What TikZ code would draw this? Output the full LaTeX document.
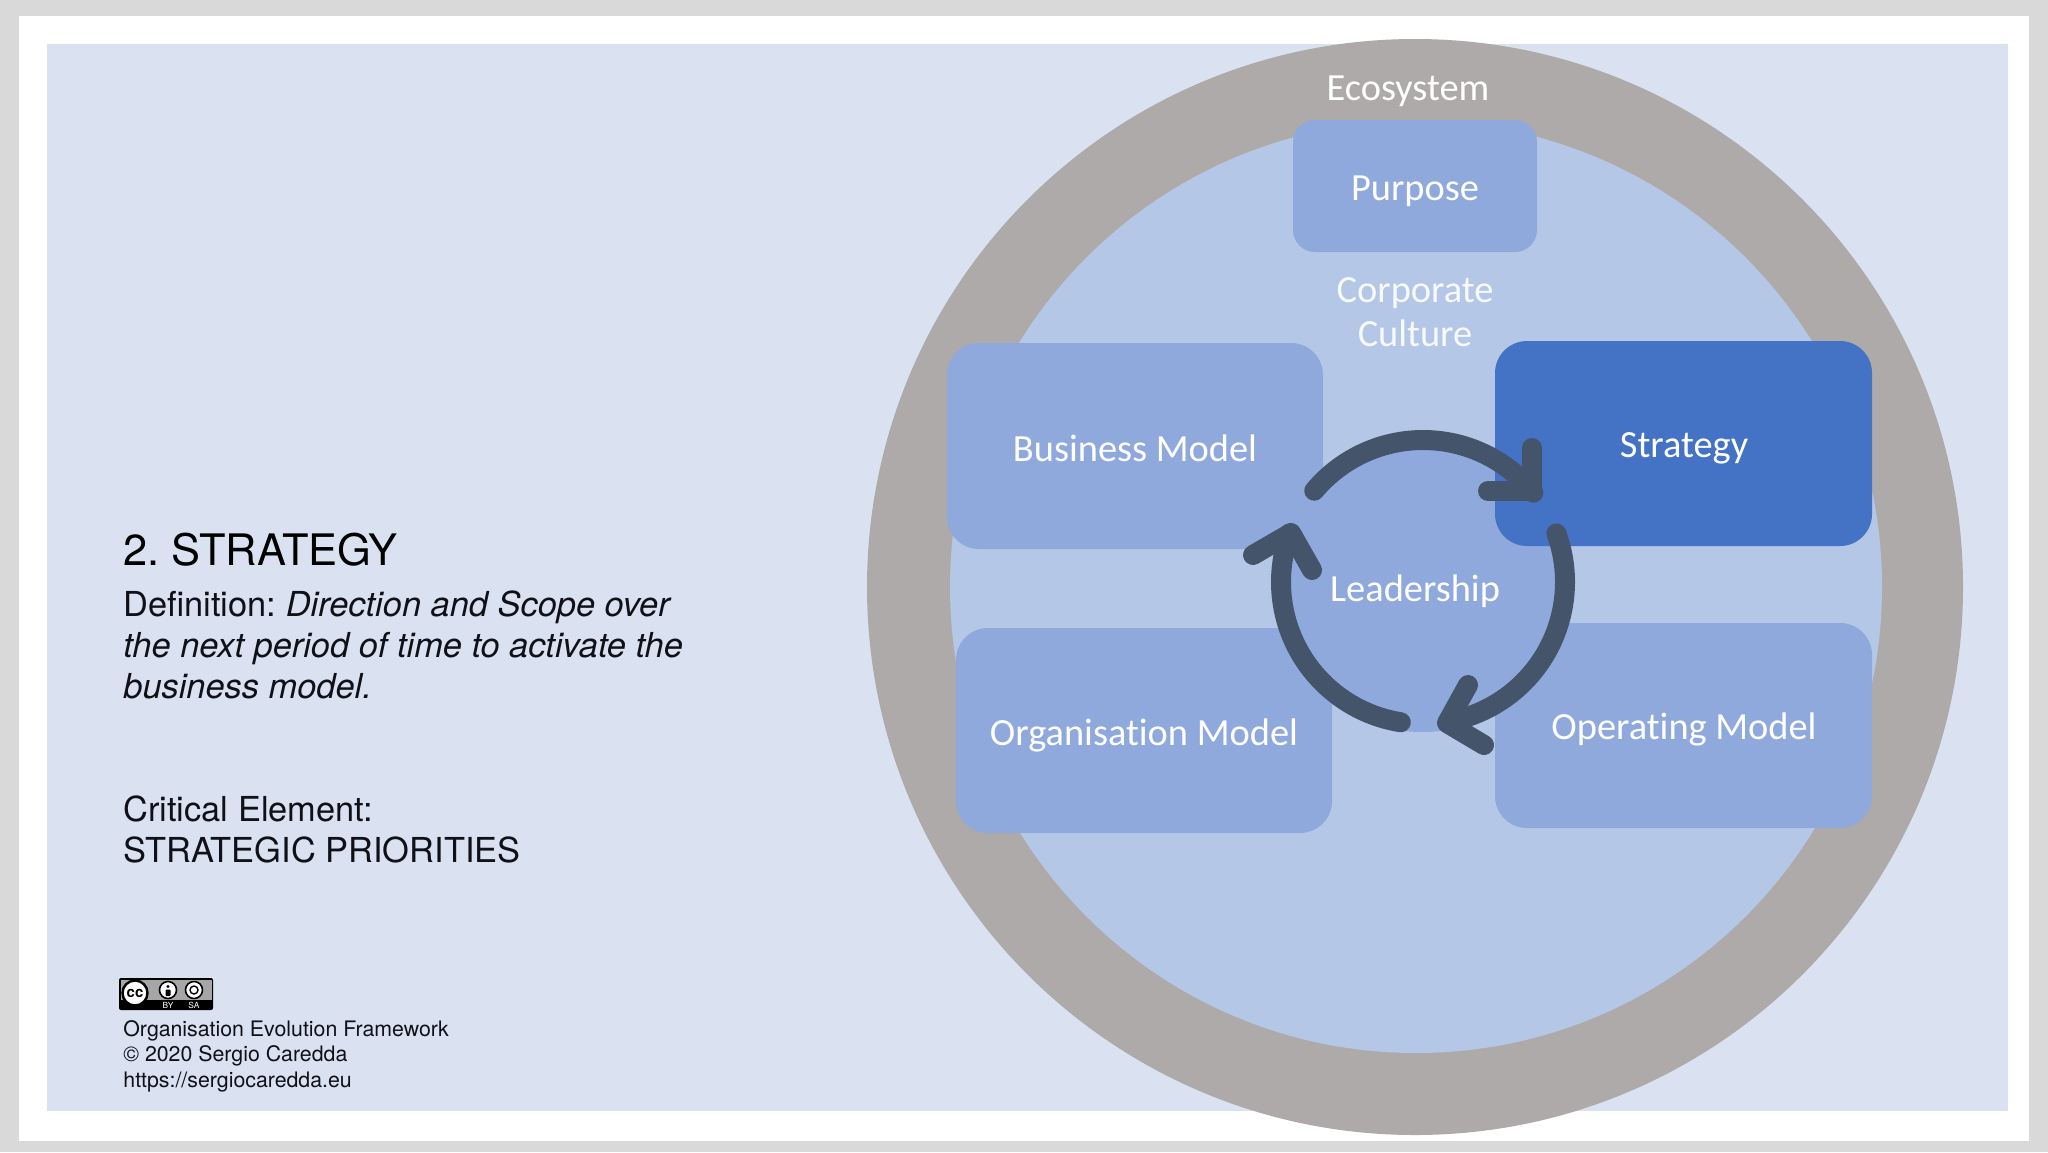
\documentclass[tikz,border=0pt]{standalone}
\usepackage{fontspec}
\setmainfont{TeX Gyre Heros}
\newfontfamily\labelfont[Ligatures=NoCommon]{Carlito}
\definecolor{framegrey}{HTML}{D9D9D9}
\definecolor{paleblue}{HTML}{DAE2F1}
\definecolor{ringgrey}{HTML}{AEAAAA}
\definecolor{innerblue}{HTML}{B4C7E7}
\definecolor{boxblue}{HTML}{8FA9DC}
\definecolor{activeblue}{HTML}{4472C4}
\definecolor{slate}{HTML}{44546A}
\definecolor{inkdark}{HTML}{101018}
\tikzset{
  lab/.style={text=white,font=\labelfont\fontsize{19.2}{22}\selectfont,inner sep=0pt,align=center},
  loopline/.style={draw=slate,line width=10pt,line cap=round,line join=round},
  head/.style={font=\frenchspacing\fontsize{21.7}{24}\selectfont,text=black,anchor=base west,inner sep=0pt},
  bodytext/.style={font=\frenchspacing\fontsize{17.2}{20.5}\selectfont,text=inkdark,anchor=north west,inner sep=0pt,align=left},
  credit/.style={font=\frenchspacing\fontsize{10.66}{12.8}\selectfont,text=inkdark,anchor=north west,inner sep=0pt,align=left},
  badgeicon/.style={circle,draw=black,line width=.8pt,fill=white,minimum size=8.5pt,inner sep=0pt},
  badgetext/.style={text=white,font=\fontsize{4.2}{4.4}\selectfont,inner sep=0pt},
}
\begin{document}
\begin{tikzpicture}[x=0.5pt,y=-0.5pt]
\useasboundingbox (0,0) rectangle (2048,1152);
\fill[framegrey] (0,0) rectangle (2048,1152);
\fill[white] (19,16) rectangle (2029,1141);
\fill[paleblue] (47,44) rectangle (2008,1111);
% circles
\node (ring) at (1415,587) [circle,fill=ringgrey,minimum size=548pt,inner sep=0pt] {};
\node (inner) at (1416,587) [circle,fill=innerblue,minimum size=466pt,inner sep=0pt] {};
% boxes
\fill[boxblue,rounded corners=11pt] (1293,120) rectangle (1537,252);
\fill[boxblue,rounded corners=16pt] (947,343) rectangle (1323,549);
\fill[boxblue,rounded corners=16pt] (956,628) rectangle (1332,833);
\fill[boxblue,rounded corners=16pt] (1495,623) rectangle (1872,828);
\node (leadcircle) at (1422,582) [circle,fill=boxblue,minimum size=150pt,inner sep=0pt] {};
\fill[activeblue,rounded corners=16pt] (1495,341) rectangle (1872,546);
% labels
\node[lab] (purpose) at (1415,191) {Purpose};
\node[lab] (business) at (1135,448) {Business Model};
\node[lab] (strategy) at (1684,448) {Strategy};
\node[lab] (organisation) at (1144,735) {Organisation Model};
\node[lab] (operating) at (1684,729) {Operating Model};
\node[lab] (leadership) at (1415,591) {Leadership};
\node[lab] (ecosystem) at (1408,91) {Ecosystem};
\node[lab,text=white!90!innerblue] (culture) at (1415,312) {Corporate\\Culture};
% cycle arrows
\coordinate (c) at (1423,582);
\draw[loopline] (c) ++(-140:142) arc[start angle=-140,end angle=-39,radius=142];
\draw[loopline] (1532,448) -- (1532,491) -- (1488,491);
\draw[loopline] (c) ++(-20:142) arc[start angle=-20,end angle=80,radius=142];
\draw[loopline] (1468,685) -- (1447,723) -- (1484,745);
\draw[loopline] (c) ++(99:142) arc[start angle=99,end angle=200,radius=142];
\draw[loopline] (1253,555) -- (1291,533) -- (1312,570);
% left text
\node[head] (title) at (123,565) {2. STRATEGY};
\node[bodytext] (definition) at (123,590) {Definition: \textit{Direction and Scope over}\\\textit{the next period of time to activate the}\\\textit{business model.}};
\node[bodytext] (critical) at (123,795) {Critical Element:\\STRATEGIC PRIORITIES};
% licence badge
\fill[black,rounded corners=1pt] (119,978) rectangle (213,1010);
\fill[black!35] (120.5,979.5) rectangle (211.5,1000);
\node (ccmark) at (135,993) [circle,draw=black,line width=1.2pt,fill=white,minimum size=12.5pt,inner sep=0pt,font=\bfseries\fontsize{7.5}{7.5}\selectfont] {cc};
\node[badgeicon] (bymark) at (168,990) {};
\fill[black] (168,986.5) circle (1.6);
\fill[black,rounded corners=.4pt] (165.5,989.5) rectangle (170.5,996);
\node[badgeicon] (samark) at (194,990) {};
\draw[black,line width=.7pt] (194,990) circle (4);
\node[badgetext] (bytext) at (168,1005) {BY};
\node[badgetext] (satext) at (194,1005) {SA};
\node[credit] (creditlines) at (123,1020) {Organisation Evolution Framework\\© 2020 Sergio Caredda\\https://sergiocaredda.eu};
\end{tikzpicture}
\end{document}
